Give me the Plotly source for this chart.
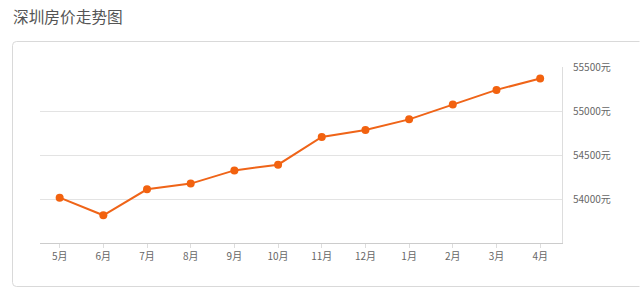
import plotly.graph_objects as go

months = ["5月", "6月", "7月", "8月", "9月", "10月", "11月", "12月", "1月", "2月", "3月", "4月"]
prices = [54015, 53815, 54110, 54175, 54325, 54390, 54705, 54785, 54905, 55075, 55240, 55370]
y_ticks = [54000, 54500, 55000, 55500]
y_tick_labels = ["54000元", "54500元", "55000元", "55500元"]

W, H = 640, 294
def px(x):
    return x / W
def py(y):
    return 1 - y / H

FONT = "Noto Sans CJK SC, Noto Sans, sans-serif"

fig = go.Figure()
fig.add_trace(go.Scatter(
    x=months, y=prices, mode="lines+markers",
    line=dict(color="#ef6418", width=2),
    marker=dict(color="#f2620f", size=8),
    hoverinfo="x+y",
))

# rounded box outline
l, t, r, b, rad = 12.5, 41.5, 639.5, 286.5, 4
path = (f"M {px(l+rad)},{py(t)} L {px(r)},{py(t)} M {px(r)},{py(b)} L {px(l+rad)},{py(b)} "
        f"Q {px(l)},{py(b)} {px(l)},{py(b-rad)} L {px(l)},{py(t+rad)} Q {px(l)},{py(t)} {px(l+rad)},{py(t)}")
fig.add_shape(type="path", path=path, xref="paper", yref="paper",
              line=dict(color="#d9d9d9", width=1), layer="below")

fig.add_annotation(text="深圳房价走势图", xref="paper", yref="paper",
                   x=px(11), y=py(17), xanchor="left", yanchor="middle",
                   showarrow=False, font=dict(size=15.7, color="#555555", family=FONT))

fig.update_layout(
    width=W, height=H,
    margin=dict(l=0, r=0, t=0, b=0, autoexpand=False),
    paper_bgcolor="white", plot_bgcolor="white",
    showlegend=False,
    font=dict(family=FONT, color="#666666", size=10),
    xaxis=dict(
        domain=[px(40), px(562)],
        type="category",
        range=[-0.45, 11.5],
        showgrid=False,
        showline=True, linecolor="#cccccc", linewidth=1,
        ticks="outside", ticklen=4, tickcolor="#dddddd",
        tickfont=dict(size=10, color="#666666", family=FONT),
        zeroline=False, fixedrange=True, automargin=False,
    ),
    yaxis=dict(
        domain=[py(243), py(67)],
        range=[53500, 55500],
        side="right",
        tickvals=y_ticks, ticktext=y_tick_labels,
        showgrid=True, gridcolor="#e3e3e3", gridwidth=1,
        showline=True, linecolor="#dddddd", linewidth=1,
        ticks="", ticklabelstandoff=8,
        tickfont=dict(size=10, color="#666666", family=FONT),
        zeroline=False, fixedrange=True, automargin=False,
    ),
)

fig.write_html("out.html")
